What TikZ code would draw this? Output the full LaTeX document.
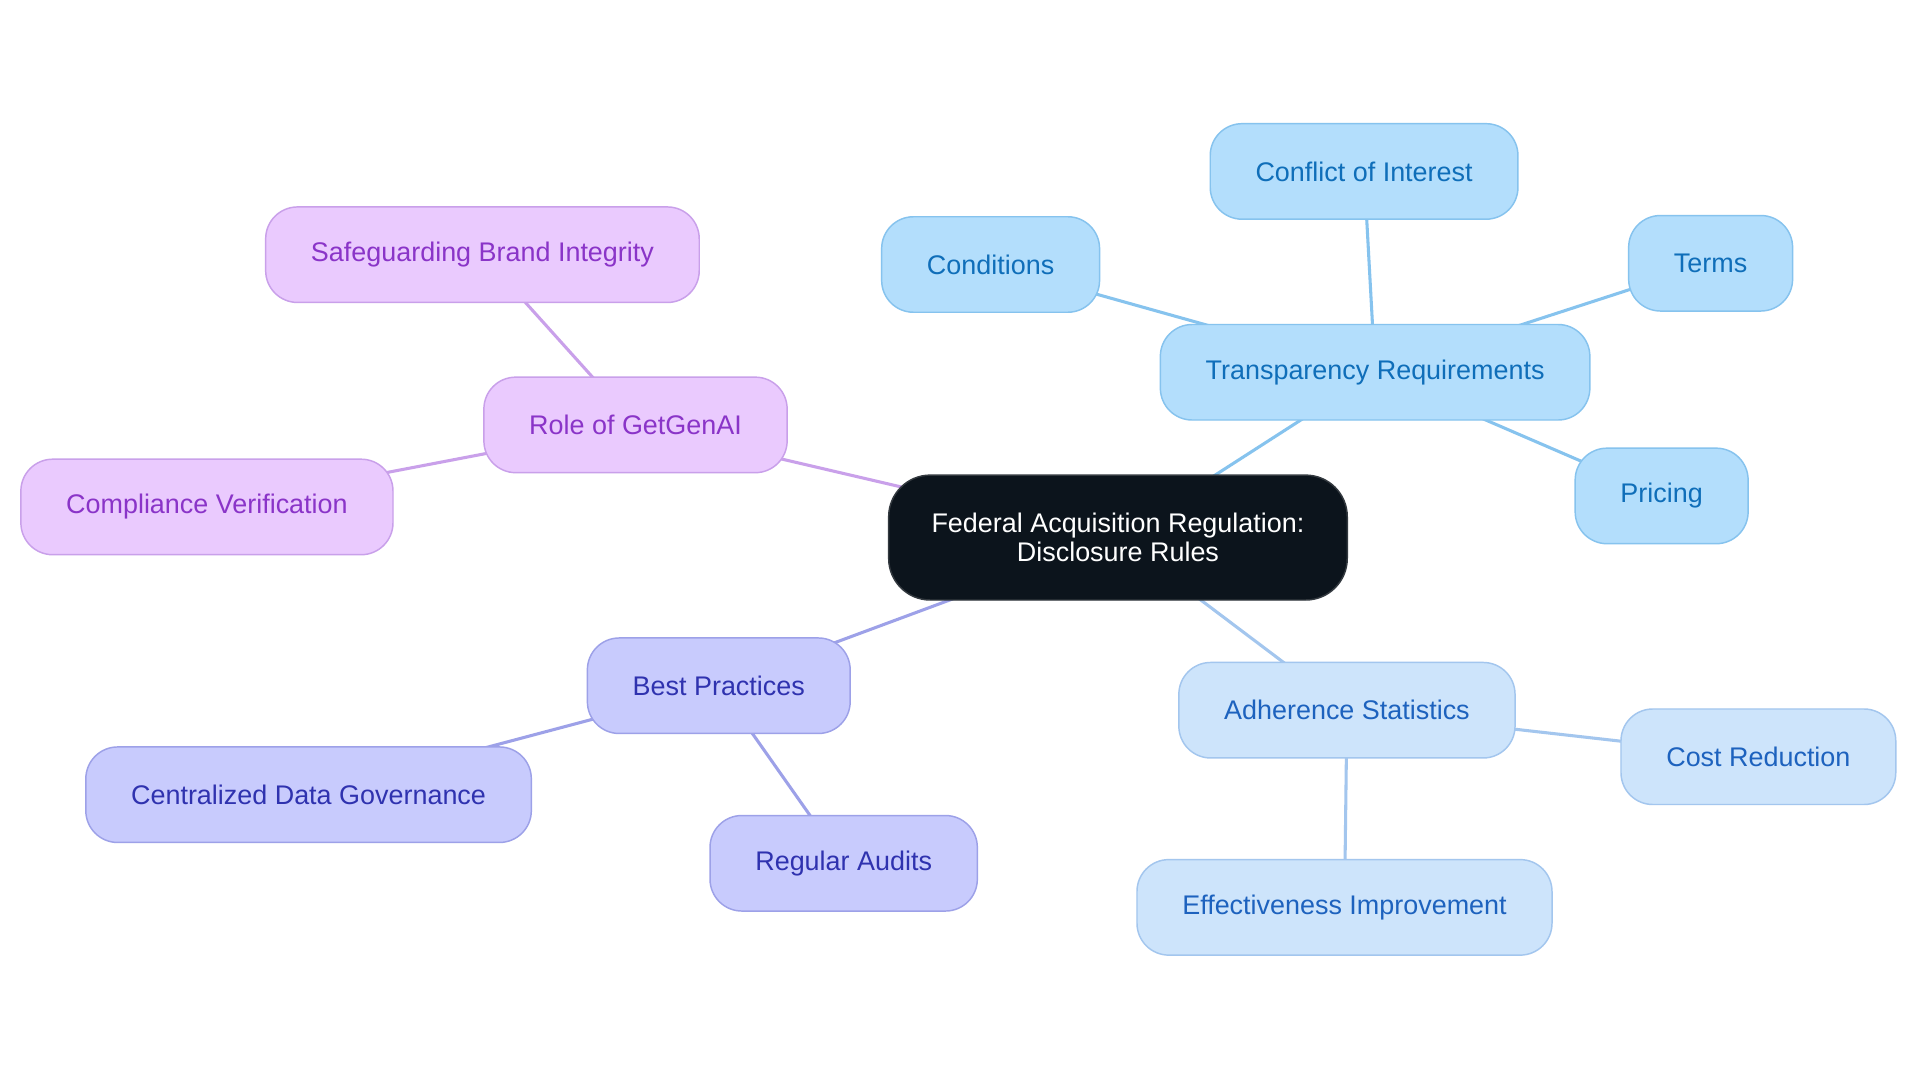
\documentclass[tikz,border=0pt]{standalone}
\usepackage{fontspec}
\setmainfont{Liberation Sans}
\usetikzlibrary{backgrounds}

\definecolor{rootfill}{HTML}{0C141C}
\definecolor{rootline}{HTML}{33393F}
\definecolor{tpfill}{HTML}{B3DEFC}
\definecolor{tpline}{HTML}{86C3EE}
\definecolor{tptext}{HTML}{0F6EB9}
\definecolor{adfill}{HTML}{CDE4FB}
\definecolor{adline}{HTML}{A3C6EE}
\definecolor{adtext}{HTML}{1D62BE}
\definecolor{rofill}{HTML}{EACAFE}
\definecolor{roline}{HTML}{C9A0EA}
\definecolor{rotext}{HTML}{8A34C8}
\definecolor{bpfill}{HTML}{C8CBFD}
\definecolor{bpline}{HTML}{9DA1E8}
\definecolor{bptext}{HTML}{2F32AF}

\begin{document}
\begin{tikzpicture}[x=1pt,y=-1pt,
  box/.style={draw, line width=1.2pt, rounded corners=26pt, minimum height=78pt,
    inner xsep=37pt, font=\fontsize{22}{24}\selectfont},
  rootbox/.style={draw=rootline, fill=rootfill, text=white, line width=1.2pt,
    rounded corners=34pt, minimum height=102pt, inner xsep=35pt, align=center,
    font=\fontsize{22}{24}\selectfont},
  tpbox/.style={box, draw=tpline, fill=tpfill, text=tptext},
  adbox/.style={box, draw=adline, fill=adfill, text=adtext},
  robox/.style={box, draw=roline, fill=rofill, text=rotext},
  bpbox/.style={box, draw=bpline, fill=bpfill, text=bptext},
  link/.style={line width=2.5pt}]

\useasboundingbox (0,0) rectangle (1568,884.4);

% root
\node [rootbox] (far) at (913,439) {Federal Acquisition Regulation:\\Disclosure Rules};

% transparency branch
\node [tpbox] (transp) at (1123,304) {Transparency Requirements};
\node [tpbox] (conflict) at (1114,140) {Conflict of Interest};
\node [tpbox] (cond) at (809,216) {Conditions};
\node [tpbox] (terms) at (1397,215) {Terms};
\node [tpbox] (pricing) at (1357,405) {Pricing};

% getgenai branch
\node [robox] (role) at (519,347) {Role of GetGenAI};
\node [robox] (brand) at (394,208) {Safeguarding Brand Integrity};
\node [robox] (verif) at (169,414) {Compliance Verification};

% best practices branch
\node [bpbox] (best) at (587,560) {Best Practices};
\node [bpbox] (govern) at (252,649) {Centralized Data Governance};
\node [bpbox] (audits) at (689,705) {Regular Audits};

% adherence branch
\node [adbox] (adher) at (1100,580) {Adherence Statistics};
\node [adbox] (cost) at (1436,618) {Cost Reduction};
\node [adbox] (effect) at (1098,741) {Effectiveness Improvement};

\begin{pgfonlayer}{background}
\fill [white] (0,0) rectangle (1568,884.4);

\draw [link, tpline] (far.center) -- (transp.center);
\draw [link, tpline] (transp.center) -- (conflict.center);
\draw [link, tpline] (transp.center) -- (cond.center);
\draw [link, tpline] (transp.center) -- (terms.center);
\draw [link, tpline] (transp.center) -- (pricing.center);

\draw [link, roline] (far.center) -- (role.center);
\draw [link, roline] (role.center) -- (brand.center);
\draw [link, roline] (role.center) -- (verif.center);

\draw [link, bpline] (far.center) -- (best.center);
\draw [link, bpline] (best.center) -- (govern.center);
\draw [link, bpline] (best.center) -- (audits.center);

\draw [link, adline] (far.center) -- (adher.center);
\draw [link, adline] (adher.center) -- (cost.center);
\draw [link, adline] (adher.center) -- (effect.center);
\end{pgfonlayer}

\end{tikzpicture}
\end{document}
